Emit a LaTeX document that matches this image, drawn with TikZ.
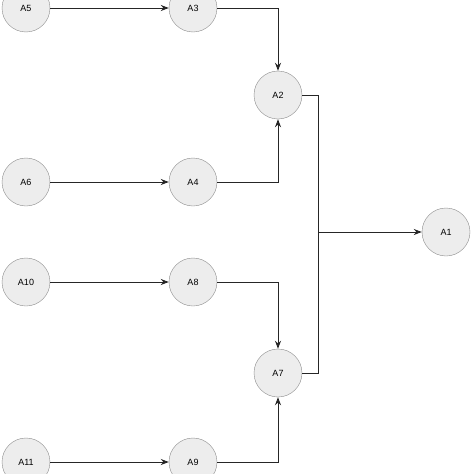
\documentclass[tikz,border=0pt]{standalone}
\usepackage{fontspec}
\setmainfont{Liberation Sans}
\usetikzlibrary{arrows.meta}
\begin{document}
\begin{tikzpicture}[x=1pt,y=-1pt,
  nd/.style={circle,draw=black!45,fill=black!7,minimum size=48pt,inner sep=0pt,font=\fontsize{9}{9}\selectfont},
  ar/.style={draw=black!85,line width=0.9pt,-{Stealth[length=8pt,width=6pt]}},
  ln/.style={draw=black!85,line width=0.9pt}]
\useasboundingbox (0,0) rectangle (474,474);
\node[nd] (A5) at (26,8) {A5};
\node[nd] (A3) at (193,8) {A3};
\node[nd] (A2) at (278,95) {A2};
\node[nd] (A6) at (26,182) {A6};
\node[nd] (A4) at (193,182) {A4};
\node[nd] (A10) at (26,282) {A10};
\node[nd] (A8) at (193,282) {A8};
\node[nd] (A7) at (278,373) {A7};
\node[nd] (A11) at (26,462) {A11};
\node[nd] (A9) at (193,462) {A9};
\node[nd] (A1) at (446,232) {A1};
\coordinate (J) at (318,232);
\draw[ar] (A5) -- (A3);
\draw[ar] (A6) -- (A4);
\draw[ar] (A10) -- (A8);
\draw[ar] (A11) -- (A9);
\draw[ar] (A3.east) -| (A2.north);
\draw[ar] (A4.east) -| (A2.south);
\draw[ar] (A8.east) -| (A7.north);
\draw[ar] (A9.east) -| (A7.south);
\draw[ln] (A2.east) -| (J);
\draw[ln] (A7.east) -| (J);
\draw[ar] (J) -- (A1.west);
\end{tikzpicture}
\end{document}
